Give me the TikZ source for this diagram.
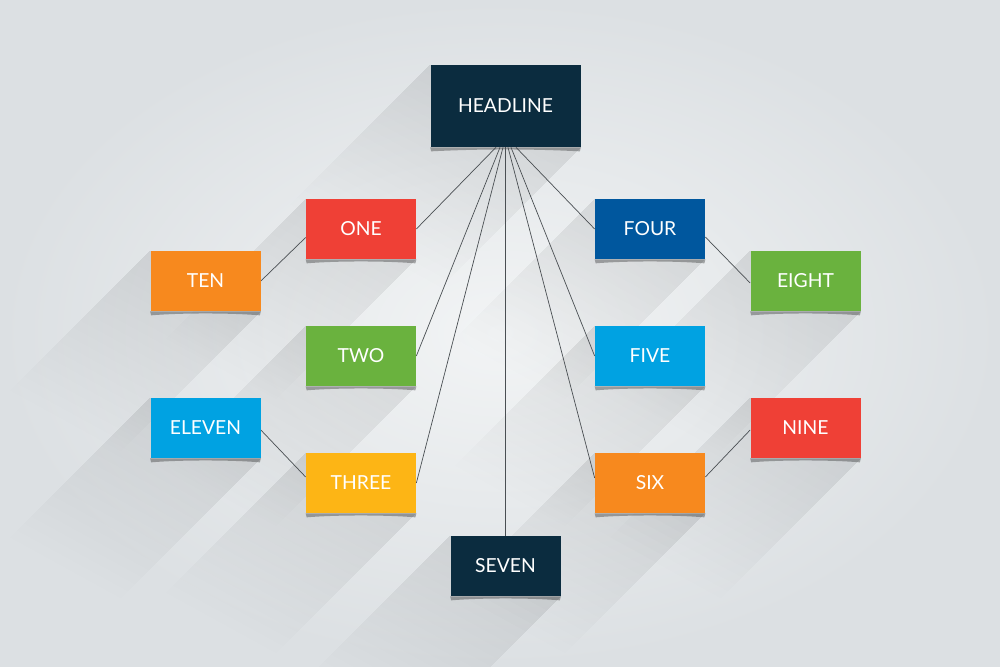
\documentclass[tikz,border=0pt]{standalone}
\usepackage{fontspec}
\setsansfont{Lato}
\usetikzlibrary{calc}

\definecolor{bgin}{HTML}{F2F4F5}
\definecolor{bgout}{HTML}{DCE0E3}
\definecolor{navy}{HTML}{0B2C3F}
\definecolor{cred}{HTML}{EF4036}
\definecolor{corange}{HTML}{F7891E}
\definecolor{cgreen}{HTML}{6AB23E}
\definecolor{cblue}{HTML}{00A2E2}
\definecolor{camber}{HTML}{FDB515}
\definecolor{cdeep}{HTML}{00579E}
\definecolor{wiregray}{HTML}{4A4F53}

\pgfdeclarelayer{back}
\pgfdeclarelayer{wires}
\pgfsetlayers{back,wires,main}

%% long shadow falling down-left from a box
\newcommand{\longshadow}[1]{%
  \foreach \l in {7,14,...,140}
    \fill[black,opacity=.0045] (#1.north west) -- (#1.south east) -- ++(-\l,-\l)
      -- ($(#1.north west)+(-\l,-\l)$) -- cycle;
  \fill[curl] (#1.south west) -- (#1.south east) -- ++(-1,-4)
    .. controls ($(#1.south)+(25,-1.5)$) and ($(#1.south)+(-25,-1.5)$) ..
    ($(#1.south west)+(1,-4)$) -- cycle;
}

\begin{document}
\begin{tikzpicture}[x=0.2mm,y=0.2mm,
    box/.style={minimum width=22mm,minimum height=12mm,inner sep=0pt,
      text=white,font=\sffamily\fontsize{11}{13}\selectfont},
    link/.style={draw=wiregray,line width=0.4pt},
    curl/.style={fill=black,opacity=.3}]
    \useasboundingbox (0,0) rectangle (1000,666);
    %% headline
    \node[box,fill=navy,minimum width=30mm,minimum height=16.4mm] (head) at (505.5,560) {HEADLINE};
    %% left side
    \node[box,fill=cred] (one) at (361,437) {ONE};
    \node[box,fill=corange] (ten) at (205.5,385) {TEN};
    \node[box,fill=cgreen] (two) at (361,310) {TWO};
    \node[box,fill=cblue] (eleven) at (205.5,238) {ELEVEN};
    \node[box,fill=camber] (three) at (361,183) {THREE};
    %% bottom
    \node[box,fill=navy] (seven) at (505.5,100) {SEVEN};
    %% right side
    \node[box,fill=cdeep] (four) at (650,437) {FOUR};
    \node[box,fill=cgreen] (eight) at (805.5,385) {EIGHT};
    \node[box,fill=cblue] (five) at (650,310) {FIVE};
    \node[box,fill=cred] (nine) at (805.5,238) {NINE};
    \node[box,fill=corange] (six) at (650,183) {SIX};

    \begin{pgfonlayer}{back}
        \begin{scope}
            \clip (0,0) rectangle (1000,666);
            %% background
            \shade[inner color=bgin,outer color=bgout] (0,0) rectangle (1000,666);
            %% shadows
            \foreach \n in {head,one,ten,two,eleven,three,seven,four,eight,five,nine,six}
                {\longshadow{\n}}
        \end{scope}
    \end{pgfonlayer}

    \begin{pgfonlayer}{wires}
        %% from the headline
        \draw[link] ([xshift=-1.9mm]head.south) -- (one.east);
        \draw[link] ([xshift=-1.1mm]head.south) -- (two.east);
        \draw[link] ([xshift=-0.5mm]head.south) -- (three.east);
        \draw[link] (head.south) -- (seven.north);
        \draw[link] ([xshift=0.5mm]head.south) -- ([yshift=1mm]six.west);
        \draw[link] ([xshift=1.1mm]head.south) -- (five.west);
        \draw[link] ([xshift=2.1mm]head.south) -- (four.west);
        %% outer boxes
        \draw[link] (ten.east) -- ([yshift=-1.7mm]one.west);
        \draw[link] ([yshift=-0.4mm]eleven.east) -- ([yshift=1.2mm]three.west);
        \draw[link] ([yshift=-1.6mm]four.east) -- ([yshift=-0.4mm]eight.west);
        \draw[link] ([yshift=1.2mm]six.east) -- ([yshift=-0.4mm]nine.west);
    \end{pgfonlayer}
\end{tikzpicture}
\end{document}
